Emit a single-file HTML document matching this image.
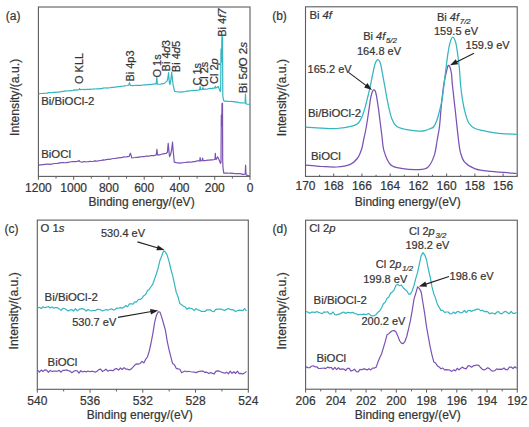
<!DOCTYPE html>
<html><head><meta charset="utf-8"><style>
html,body{margin:0;padding:0;background:#fff;}
svg{display:block;}
text{font-family:"Liberation Sans", sans-serif;fill:#333333;stroke:#3a3a3a;stroke-width:0.22px;}
</style></head><body>
<svg width="529" height="427" viewBox="0 0 529 427">
<rect width="529" height="427" fill="#fff"/>
<rect x="38.40" y="7.00" width="211.60" height="169.40" fill="none" stroke="#5c5c5c" stroke-width="1.1"/>
<line x1="38.40" y1="176.40" x2="38.40" y2="179.80" stroke="#5c5c5c" stroke-width="1"/>
<text x="38.40" y="192.00" font-size="12" text-anchor="middle" >1200</text>
<line x1="56.03" y1="176.40" x2="56.03" y2="178.60" stroke="#5c5c5c" stroke-width="1"/>
<line x1="73.67" y1="176.40" x2="73.67" y2="179.80" stroke="#5c5c5c" stroke-width="1"/>
<text x="73.67" y="192.00" font-size="12" text-anchor="middle" >1000</text>
<line x1="91.30" y1="176.40" x2="91.30" y2="178.60" stroke="#5c5c5c" stroke-width="1"/>
<line x1="108.93" y1="176.40" x2="108.93" y2="179.80" stroke="#5c5c5c" stroke-width="1"/>
<text x="108.93" y="192.00" font-size="12" text-anchor="middle" >800</text>
<line x1="126.57" y1="176.40" x2="126.57" y2="178.60" stroke="#5c5c5c" stroke-width="1"/>
<line x1="144.20" y1="176.40" x2="144.20" y2="179.80" stroke="#5c5c5c" stroke-width="1"/>
<text x="144.20" y="192.00" font-size="12" text-anchor="middle" >600</text>
<line x1="161.83" y1="176.40" x2="161.83" y2="178.60" stroke="#5c5c5c" stroke-width="1"/>
<line x1="179.47" y1="176.40" x2="179.47" y2="179.80" stroke="#5c5c5c" stroke-width="1"/>
<text x="179.47" y="192.00" font-size="12" text-anchor="middle" >400</text>
<line x1="197.10" y1="176.40" x2="197.10" y2="178.60" stroke="#5c5c5c" stroke-width="1"/>
<line x1="214.73" y1="176.40" x2="214.73" y2="179.80" stroke="#5c5c5c" stroke-width="1"/>
<text x="214.73" y="192.00" font-size="12" text-anchor="middle" >200</text>
<line x1="232.37" y1="176.40" x2="232.37" y2="178.60" stroke="#5c5c5c" stroke-width="1"/>
<line x1="250.00" y1="176.40" x2="250.00" y2="179.80" stroke="#5c5c5c" stroke-width="1"/>
<text x="250.00" y="192.00" font-size="12" text-anchor="middle" >0</text>
<text x="5.80" y="19.60" font-size="12" text-anchor="start" >(a)</text>
<text x="141.60" y="205.60" font-size="12" text-anchor="middle" >Binding energy/(eV)</text>
<text transform="translate(18.9,97.4) rotate(-90)" font-size="12.2" text-anchor="middle">Intensity/(a.u.)</text>
<text x="41.20" y="105.20" font-size="11.4" text-anchor="start" >Bi/BiOCl-2</text>
<text x="41.20" y="158.20" font-size="11.4" text-anchor="start" >BiOCl</text>
<path d="M38.90,93.80 L40.51,93.52 L42.12,93.52 L43.73,93.28 L45.34,93.25 L46.95,93.11 L48.56,92.68 L50.17,92.51 L51.78,92.77 L53.39,92.33 L55.00,92.30 L56.50,92.00 L58.00,92.21 L59.50,91.78 L61.00,91.79 L62.50,91.44 L64.00,91.36 L65.50,90.94 L67.00,91.02 L68.50,90.97 L70.00,90.62 L71.50,90.56 L73.00,90.36 L74.50,89.89 L76.00,90.07 L77.50,89.81 L79.00,89.60 L79.60,88.60 L80.30,89.70 L81.82,89.52 L83.33,89.30 L84.85,89.63 L86.36,89.35 L87.88,89.39 L89.39,89.38 L90.91,89.21 L92.42,89.23 L93.94,88.89 L95.45,89.00 L96.97,88.74 L98.48,88.90 L100.00,88.60 L101.51,88.65 L103.02,88.12 L104.53,88.00 L106.04,87.90 L107.55,88.13 L109.06,87.73 L110.57,87.68 L112.08,87.38 L113.59,87.34 L115.10,87.20 L116.61,86.91 L118.12,86.66 L119.63,86.54 L121.14,86.31 L122.66,86.24 L124.17,85.89 L125.68,85.78 L127.19,85.51 L128.70,85.10 L129.50,82.60 L130.40,85.40 L132.25,85.65 L134.10,85.49 L135.95,85.23 L137.80,85.40 L139.32,85.46 L140.84,85.39 L142.36,85.24 L143.88,84.95 L145.40,84.80 L146.94,84.78 L148.49,84.40 L150.03,84.58 L151.57,84.32 L153.11,84.05 L154.66,83.81 L156.20,83.90 L156.80,77.00 L157.40,84.20 L159.05,84.23 L160.70,84.14 L162.35,83.54 L164.00,83.60 L165.55,82.35 L167.10,80.80 L167.70,79.00 L168.60,72.60 L169.30,82.00 L169.90,84.60 L170.90,80.00 L171.70,72.40 L172.50,80.00 L173.20,85.40 L174.60,91.40 L176.40,91.62 L178.20,91.76 L180.00,92.20 L181.64,91.88 L183.28,91.89 L184.92,91.73 L186.56,91.09 L188.20,91.10 L189.81,90.97 L191.43,90.50 L193.04,90.65 L194.66,90.27 L196.27,90.36 L197.89,90.23 L199.50,89.80 L200.10,86.60 L200.80,89.60 L202.20,89.40 L202.80,87.60 L203.50,89.30 L205.10,89.15 L206.70,89.23 L208.30,88.73 L209.90,88.46 L211.50,88.56 L213.10,88.12 L214.70,88.20 L215.40,86.20 L216.00,88.00 L217.30,87.20 L218.20,86.40 L220.20,91.50 L220.70,90.00 L221.00,49.00 L221.50,62.00 L221.90,36.50 L222.50,36.50 L222.80,96.00 L223.60,100.40 L224.30,101.20 L226.04,101.13 L227.78,101.31 L229.52,101.50 L231.26,101.35 L233.00,101.60 L234.53,101.57 L236.06,102.18 L237.59,102.11 L239.11,102.63 L240.64,102.80 L242.17,102.74 L243.70,103.00 L245.10,102.80 L245.50,94.00 L245.90,103.60 L246.60,104.10 L248.10,104.23 L249.60,104.40" fill="none" stroke="#33b6bf" stroke-width="1.2" stroke-linejoin="round"/>
<path d="M38.90,165.10 L40.44,164.82 L41.97,164.61 L43.51,164.61 L45.05,164.35 L46.58,164.16 L48.12,164.18 L49.65,164.29 L51.19,164.09 L52.73,163.92 L54.26,163.51 L55.80,163.50 L57.30,163.36 L58.80,163.07 L60.30,162.86 L61.80,162.66 L63.30,162.56 L64.80,162.75 L66.30,162.54 L67.80,162.37 L69.30,162.21 L70.80,161.75 L72.30,161.64 L73.80,161.64 L75.30,161.54 L76.80,161.44 L78.30,161.10 L78.90,160.40 L79.60,161.50 L81.00,161.90 L82.51,162.03 L84.03,161.58 L85.54,161.78 L87.06,161.76 L88.57,161.62 L90.09,161.40 L91.60,161.50 L93.28,161.29 L94.96,160.89 L96.64,161.12 L98.32,160.88 L100.00,160.50 L101.50,160.30 L103.00,159.95 L104.50,160.03 L106.00,159.60 L107.54,159.43 L109.08,159.38 L110.62,159.15 L112.16,158.78 L113.70,158.52 L115.24,158.41 L116.78,158.12 L118.32,157.78 L119.86,157.64 L121.40,157.69 L122.94,157.10 L124.48,156.89 L126.02,156.98 L127.56,156.60 L129.10,156.50 L130.40,153.20 L131.80,157.90 L133.39,157.74 L134.97,157.53 L136.56,157.28 L138.15,157.43 L139.73,156.85 L141.32,156.78 L142.91,156.49 L144.49,156.53 L146.08,156.17 L147.67,156.03 L149.25,156.04 L150.84,155.65 L152.43,155.59 L154.01,155.58 L155.60,155.20 L156.30,155.00 L156.90,149.30 L157.50,154.90 L160.00,154.80 L161.50,154.28 L163.00,153.93 L164.50,153.69 L166.00,153.50 L167.40,152.30 L168.20,143.40 L169.00,152.00 L169.60,156.60 L170.60,154.50 L171.60,150.00 L172.50,142.20 L173.30,152.00 L174.30,162.10 L176.13,162.60 L177.97,162.89 L179.80,163.20 L181.33,162.88 L182.86,162.75 L184.39,162.48 L185.92,162.44 L187.45,162.05 L188.98,162.19 L190.52,162.11 L192.05,161.95 L193.58,161.66 L195.11,161.58 L196.64,160.93 L198.17,160.88 L199.70,160.80 L200.10,157.60 L200.60,160.80 L202.10,160.60 L202.60,158.00 L203.10,160.60 L204.70,160.68 L206.30,160.42 L207.90,160.08 L209.50,160.19 L211.10,159.87 L212.70,159.82 L214.30,159.50 L215.00,159.20 L215.30,153.30 L215.70,159.20 L216.20,159.50 L217.60,156.80 L218.90,159.50 L220.60,163.50 L221.00,162.00 L221.30,115.00 L221.70,126.00 L222.00,103.40 L222.50,103.60 L222.70,160.00 L223.00,168.00 L223.80,173.20 L225.45,173.13 L227.10,173.11 L228.75,173.27 L230.40,173.15 L232.05,173.31 L233.70,173.40 L235.20,173.76 L236.70,173.57 L238.20,173.54 L239.70,173.69 L241.20,173.88 L242.70,174.31 L244.20,174.30 L245.20,174.00 L245.60,165.20 L246.00,174.50 L246.60,175.10 L248.10,175.48 L249.60,176.00" fill="none" stroke="#7a52b3" stroke-width="1.2" stroke-linejoin="round"/>
<text transform="translate(82.60,84.00) rotate(-90)" font-size="11">O KLL</text>
<text transform="translate(134.30,81.60) rotate(-90)" font-size="11">Bi 4p3</text>
<text transform="translate(160.80,77.60) rotate(-90)" font-size="11">O 1s</text>
<text transform="translate(170.30,71.40) rotate(-90)" font-size="11">Bi 4<tspan font-style="italic">d</tspan>3</text>
<text transform="translate(179.50,72.20) rotate(-90)" font-size="11">Bi 4<tspan font-style="italic">d</tspan>5</text>
<text transform="translate(201.10,85.60) rotate(-90)" font-size="11">C 1s</text>
<text transform="translate(207.70,86.80) rotate(-90)" font-size="11">Cl 2s</text>
<text transform="translate(218.30,84.00) rotate(-90)" font-size="11">Cl 2<tspan font-style="italic">p</tspan></text>
<text transform="translate(225.80,36.80) rotate(-90)" font-size="11">Bi 4<tspan font-style="italic">f7</tspan></text>
<text transform="translate(246.60,93.20) rotate(-90)" font-size="11.7">Bi 5<tspan font-style="italic">d</tspan>O 2<tspan font-style="italic">s</tspan></text>
<rect x="305.50" y="6.80" width="211.70" height="169.60" fill="none" stroke="#5c5c5c" stroke-width="1.1"/>
<line x1="305.50" y1="176.40" x2="305.50" y2="173.50" stroke="#5c5c5c" stroke-width="1"/>
<text x="305.50" y="189.60" font-size="12" text-anchor="middle" >170</text>
<line x1="319.61" y1="176.40" x2="319.61" y2="174.80" stroke="#5c5c5c" stroke-width="1"/>
<line x1="333.73" y1="176.40" x2="333.73" y2="173.50" stroke="#5c5c5c" stroke-width="1"/>
<text x="333.73" y="189.60" font-size="12" text-anchor="middle" >168</text>
<line x1="347.84" y1="176.40" x2="347.84" y2="174.80" stroke="#5c5c5c" stroke-width="1"/>
<line x1="361.95" y1="176.40" x2="361.95" y2="173.50" stroke="#5c5c5c" stroke-width="1"/>
<text x="361.95" y="189.60" font-size="12" text-anchor="middle" >166</text>
<line x1="376.07" y1="176.40" x2="376.07" y2="174.80" stroke="#5c5c5c" stroke-width="1"/>
<line x1="390.18" y1="176.40" x2="390.18" y2="173.50" stroke="#5c5c5c" stroke-width="1"/>
<text x="390.18" y="189.60" font-size="12" text-anchor="middle" >164</text>
<line x1="404.29" y1="176.40" x2="404.29" y2="174.80" stroke="#5c5c5c" stroke-width="1"/>
<line x1="418.41" y1="176.40" x2="418.41" y2="173.50" stroke="#5c5c5c" stroke-width="1"/>
<text x="418.41" y="189.60" font-size="12" text-anchor="middle" >162</text>
<line x1="432.52" y1="176.40" x2="432.52" y2="174.80" stroke="#5c5c5c" stroke-width="1"/>
<line x1="446.63" y1="176.40" x2="446.63" y2="173.50" stroke="#5c5c5c" stroke-width="1"/>
<text x="446.63" y="189.60" font-size="12" text-anchor="middle" >160</text>
<line x1="460.75" y1="176.40" x2="460.75" y2="174.80" stroke="#5c5c5c" stroke-width="1"/>
<line x1="474.86" y1="176.40" x2="474.86" y2="173.50" stroke="#5c5c5c" stroke-width="1"/>
<text x="474.86" y="189.60" font-size="12" text-anchor="middle" >158</text>
<line x1="488.97" y1="176.40" x2="488.97" y2="174.80" stroke="#5c5c5c" stroke-width="1"/>
<line x1="503.09" y1="176.40" x2="503.09" y2="173.50" stroke="#5c5c5c" stroke-width="1"/>
<text x="503.09" y="189.60" font-size="12" text-anchor="middle" >156</text>
<line x1="517.20" y1="176.40" x2="517.20" y2="174.80" stroke="#5c5c5c" stroke-width="1"/>
<text x="272.20" y="19.60" font-size="12" text-anchor="start" >(b)</text>
<text x="407.80" y="206.20" font-size="12" text-anchor="middle" >Binding energy/(eV)</text>
<text transform="translate(285.8,97.6) rotate(-90)" font-size="12.2" text-anchor="middle">Intensity/(a.u.)</text>
<text x="309.40" y="19.00" font-size="11.3" text-anchor="start" >Bi <tspan font-style="italic">4f</tspan></text>
<text x="308.00" y="117.00" font-size="11.4" text-anchor="start" >Bi/BiOCl-2</text>
<text x="311.00" y="160.00" font-size="11.4" text-anchor="start" >BiOCl</text>
<text x="363.20" y="40.40" font-size="11" text-anchor="start" >Bi <tspan font-style="italic">4f</tspan><tspan font-size="7.8" font-style="italic" dx="0.8" dy="3.0">5/2</tspan></text>
<text x="357.00" y="55.20" font-size="11" text-anchor="start" >164.8 eV</text>
<text x="307.60" y="73.00" font-size="11" text-anchor="start" >165.2 eV</text>
<text x="437.00" y="20.80" font-size="11" text-anchor="start" >Bi <tspan font-style="italic">4f</tspan><tspan font-size="7.8" font-style="italic" dx="0.8" dy="3.0">7/2</tspan></text>
<text x="434.00" y="35.00" font-size="11" text-anchor="start" >159.5 eV</text>
<text x="465.60" y="49.00" font-size="11" text-anchor="start" >159.9 eV</text>
<path d="M305.80,165.20 C308.45,165.42 316.55,166.20 321.70,166.50 C326.85,166.80 332.02,167.32 336.70,167.00 C341.38,166.68 346.37,166.02 349.80,164.60 C353.23,163.18 355.35,161.02 357.30,158.50 C359.25,155.98 360.45,152.58 361.50,149.50 C362.55,146.42 362.82,143.67 363.60,140.00 C364.38,136.33 365.33,132.37 366.20,127.50 C367.07,122.63 368.05,115.73 368.80,110.80 C369.55,105.87 369.98,101.33 370.70,97.90 C371.42,94.47 372.25,91.07 373.10,90.20 C373.95,89.33 374.92,89.70 375.80,92.70 C376.68,95.70 377.70,103.48 378.40,108.20 C379.10,112.92 379.43,116.53 380.00,121.00 C380.57,125.47 381.13,130.02 381.80,135.00 C382.47,139.98 382.53,145.93 384.00,150.90 C385.47,155.87 387.73,161.90 390.60,164.80 C393.47,167.70 396.80,167.50 401.20,168.30 C405.60,169.10 412.60,169.73 417.00,169.60 C421.40,169.47 424.73,169.83 427.60,167.50 C430.47,165.17 432.60,160.18 434.20,155.60 C435.80,151.02 436.32,144.85 437.20,140.00 C438.08,135.15 438.85,131.80 439.50,126.50 C440.15,121.20 440.40,115.12 441.10,108.20 C441.80,101.28 442.75,91.37 443.70,85.00 C444.65,78.63 445.97,73.27 446.80,70.00 C447.63,66.73 447.95,64.98 448.70,65.40 C449.45,65.82 450.68,69.23 451.30,72.50 C451.92,75.77 451.73,78.62 452.40,85.00 C453.07,91.38 454.28,101.63 455.30,110.80 C456.32,119.97 457.63,133.03 458.50,140.00 C459.37,146.97 459.47,148.90 460.50,152.60 C461.53,156.30 462.25,159.50 464.70,162.20 C467.15,164.90 470.80,167.27 475.20,168.80 C479.60,170.33 484.17,170.62 491.10,171.40 C498.03,172.18 512.52,173.15 516.80,173.50" fill="none" stroke="#7a52b3" stroke-width="1.25"/>
<path d="M305.80,127.20 C308.45,127.35 316.55,127.88 321.70,128.10 C326.85,128.32 331.65,128.82 336.70,128.50 C341.75,128.18 348.38,127.12 352.00,126.20 C355.62,125.28 356.68,124.72 358.40,123.00 C360.12,121.28 361.22,118.37 362.30,115.90 C363.38,113.43 364.03,111.20 364.90,108.20 C365.77,105.20 366.65,101.33 367.50,97.90 C368.35,94.47 369.15,91.50 370.00,87.60 C370.85,83.70 371.72,78.57 372.60,74.50 C373.48,70.43 374.38,65.67 375.30,63.20 C376.22,60.73 377.22,59.57 378.10,59.70 C378.98,59.83 379.88,61.75 380.60,64.00 C381.32,66.25 381.63,69.08 382.40,73.20 C383.17,77.32 384.27,83.62 385.20,88.70 C386.13,93.78 386.90,98.70 388.00,103.70 C389.10,108.70 390.38,114.95 391.80,118.70 C393.22,122.45 394.47,124.48 396.50,126.20 C398.53,127.92 401.75,128.33 404.00,129.00 C406.25,129.67 407.38,129.83 410.00,130.20 C412.62,130.57 417.20,131.12 419.70,131.20 C422.20,131.28 423.23,131.13 425.00,130.70 C426.77,130.27 428.88,129.22 430.30,128.60 C431.72,127.98 432.42,128.35 433.50,127.00 C434.58,125.65 435.85,122.98 436.80,120.50 C437.75,118.02 438.35,115.43 439.20,112.10 C440.05,108.77 441.10,105.02 441.90,100.50 C442.70,95.98 443.30,90.52 444.00,85.00 C444.70,79.48 445.43,72.70 446.10,67.40 C446.77,62.10 447.35,57.28 448.00,53.20 C448.65,49.12 449.20,45.58 450.00,42.90 C450.80,40.22 451.83,37.10 452.80,37.10 C453.77,37.10 454.98,40.00 455.80,42.90 C456.62,45.80 457.10,50.20 457.70,54.50 C458.30,58.80 458.92,63.62 459.40,68.70 C459.88,73.78 460.10,79.92 460.60,85.00 C461.10,90.08 461.67,94.68 462.40,99.20 C463.13,103.72 463.93,108.13 465.00,112.10 C466.07,116.07 467.13,120.27 468.80,123.00 C470.47,125.73 472.17,127.13 475.00,128.50 C477.83,129.87 481.80,130.38 485.80,131.20 C489.80,132.02 493.83,132.87 499.00,133.40 C504.17,133.93 513.83,134.23 516.80,134.40" fill="none" stroke="#33b6bf" stroke-width="1.25"/>
<line x1="348.90" y1="72.60" x2="366.56" y2="85.82" stroke="#222" stroke-width="1.1"/>
<path d="M372.00,89.90 L364.14,87.39 L367.38,83.06 Z" fill="#222"/>
<line x1="474.00" y1="53.20" x2="456.08" y2="62.16" stroke="#222" stroke-width="1.1"/>
<path d="M450.00,65.20 L455.77,59.30 L458.18,64.13 Z" fill="#222"/>
<rect x="37.30" y="220.10" width="211.00" height="169.20" fill="none" stroke="#5c5c5c" stroke-width="1.1"/>
<line x1="37.30" y1="389.30" x2="37.30" y2="392.70" stroke="#5c5c5c" stroke-width="1"/>
<text x="37.30" y="405.00" font-size="12" text-anchor="middle" >540</text>
<line x1="63.67" y1="389.30" x2="63.67" y2="391.50" stroke="#5c5c5c" stroke-width="1"/>
<line x1="90.05" y1="389.30" x2="90.05" y2="392.70" stroke="#5c5c5c" stroke-width="1"/>
<text x="90.05" y="405.00" font-size="12" text-anchor="middle" >536</text>
<line x1="116.42" y1="389.30" x2="116.42" y2="391.50" stroke="#5c5c5c" stroke-width="1"/>
<line x1="142.80" y1="389.30" x2="142.80" y2="392.70" stroke="#5c5c5c" stroke-width="1"/>
<text x="142.80" y="405.00" font-size="12" text-anchor="middle" >532</text>
<line x1="169.18" y1="389.30" x2="169.18" y2="391.50" stroke="#5c5c5c" stroke-width="1"/>
<line x1="195.55" y1="389.30" x2="195.55" y2="392.70" stroke="#5c5c5c" stroke-width="1"/>
<text x="195.55" y="405.00" font-size="12" text-anchor="middle" >528</text>
<line x1="221.93" y1="389.30" x2="221.93" y2="391.50" stroke="#5c5c5c" stroke-width="1"/>
<line x1="248.30" y1="389.30" x2="248.30" y2="392.70" stroke="#5c5c5c" stroke-width="1"/>
<text x="248.30" y="405.00" font-size="12" text-anchor="middle" >524</text>
<text x="4.60" y="232.80" font-size="12" text-anchor="start" >(c)</text>
<text x="139.70" y="419.20" font-size="12" text-anchor="middle" >Binding energy/(eV)</text>
<text transform="translate(18.1,310.8) rotate(-90)" font-size="12.2" text-anchor="middle">Intensity/(a.u.)</text>
<text x="40.60" y="232.40" font-size="11.3" text-anchor="start" >O 1<tspan font-style="italic">s</tspan></text>
<text x="44.60" y="301.20" font-size="11.4" text-anchor="start" >Bi/BiOCl-2</text>
<text x="47.60" y="365.60" font-size="11.4" text-anchor="start" >BiOCl</text>
<text x="101.00" y="237.20" font-size="11" text-anchor="start" >530.4 eV</text>
<text x="72.20" y="325.60" font-size="11" text-anchor="start" >530.7 eV</text>
<path d="M37.60,308.07 L39.40,307.28 L41.20,308.49 L43.00,306.77 L44.80,307.73 L46.60,307.20 L48.40,306.46 L50.20,307.92 L52.00,306.95 L53.80,308.22 L55.60,307.54 L57.40,307.72 L59.20,308.88 L61.00,310.29 L62.80,308.44 L64.60,308.51 L66.40,309.77 L68.20,310.97 L70.00,310.09 L71.80,309.46 L73.60,311.15 L75.40,308.66 L77.20,310.77 L79.00,309.42 L80.80,308.83 L82.60,308.72 L84.40,309.35 L86.20,311.04 L88.00,309.46 L89.80,310.50 L91.60,310.90 L93.40,310.24 L95.20,310.74 L97.00,309.43 L98.80,309.30 L100.60,309.79 L102.40,311.02 L104.20,310.23 L106.00,309.56 L107.80,310.06 L109.60,309.52 L111.40,308.77 L113.20,309.92 L115.00,309.60 L116.80,307.97 L118.60,308.23 L120.40,307.65 L122.20,308.14 L124.00,307.31 L125.80,305.39 L127.60,306.70 L129.40,303.84 L131.20,303.77 L133.00,304.19 L134.80,301.87 L136.60,301.96 L138.40,299.49 L140.20,299.39 L142.00,298.14 L143.80,295.72 L145.60,294.43 L147.40,290.75 L149.20,289.44 L151.00,286.78 L152.80,284.22 L154.60,278.88 L156.40,273.76 L158.20,267.94 L160.00,260.23 L161.80,255.81 L163.60,250.84 L165.40,252.11 L167.20,255.32 L169.00,261.18 L170.80,269.00 L172.60,275.46 L174.40,283.52 L176.20,292.11 L178.00,296.67 L179.80,303.58 L181.60,304.66 L183.40,306.19 L185.20,306.99 L187.00,309.30 L188.80,307.91 L190.60,308.25 L192.40,308.91 L194.20,310.64 L196.00,308.71 L197.80,309.71 L199.60,310.35 L201.40,311.45 L203.20,311.41 L205.00,311.52 L206.80,309.77 L208.60,309.90 L210.40,309.74 L212.20,311.28 L214.00,311.72 L215.80,309.35 L217.60,309.06 L219.40,309.17 L221.20,309.18 L223.00,309.92 L224.80,310.33 L226.60,309.40 L228.40,308.47 L230.20,309.57 L232.00,309.57 L233.80,310.15 L235.60,311.38 L237.40,310.77 L239.20,310.14 L241.00,310.34 L242.80,310.53 L244.60,308.68 L246.40,310.92" fill="none" stroke="#33b6bf" stroke-width="1.2" stroke-linejoin="round"/>
<path d="M37.60,370.08 L39.40,372.20 L41.20,370.04 L43.00,371.48 L44.80,369.87 L46.60,370.14 L48.40,372.47 L50.20,370.47 L52.00,371.50 L53.80,371.14 L55.60,371.09 L57.40,371.24 L59.20,370.39 L61.00,372.21 L62.80,370.29 L64.60,370.47 L66.40,369.89 L68.20,370.57 L70.00,371.13 L71.80,372.73 L73.60,371.43 L75.40,370.48 L77.20,370.80 L79.00,373.08 L80.80,370.67 L82.60,371.94 L84.40,371.28 L86.20,371.93 L88.00,370.96 L89.80,371.77 L91.60,371.20 L93.40,371.47 L95.20,372.16 L97.00,371.20 L98.80,369.63 L100.60,369.06 L102.40,371.52 L104.20,370.41 L106.00,369.24 L107.80,371.19 L109.60,370.25 L111.40,370.43 L113.20,370.78 L115.00,368.91 L116.80,368.72 L118.60,370.12 L120.40,368.00 L122.20,369.49 L124.00,367.63 L125.80,369.04 L127.60,369.20 L129.40,369.88 L131.20,369.04 L133.00,367.08 L134.80,365.09 L136.60,363.87 L138.40,364.12 L140.20,363.45 L142.00,361.38 L143.80,362.90 L145.60,359.42 L147.40,357.00 L149.20,351.34 L151.00,343.25 L152.80,333.89 L154.60,322.69 L156.40,315.40 L158.20,311.77 L160.00,312.09 L161.80,317.43 L163.60,323.76 L165.40,330.09 L167.20,341.03 L169.00,349.55 L170.80,356.69 L172.60,363.58 L174.40,364.68 L176.20,368.34 L178.00,368.85 L179.80,369.23 L181.60,372.66 L183.40,371.71 L185.20,371.05 L187.00,371.75 L188.80,371.24 L190.60,371.74 L192.40,372.00 L194.20,372.03 L196.00,372.63 L197.80,371.89 L199.60,371.28 L201.40,371.15 L203.20,371.19 L205.00,372.43 L206.80,372.13 L208.60,373.42 L210.40,372.70 L212.20,373.20 L214.00,374.08 L215.80,371.45 L217.60,370.92 L219.40,371.20 L221.20,371.97 L223.00,372.64 L224.80,373.25 L226.60,372.16 L228.40,373.83 L230.20,371.18 L232.00,373.28 L233.80,371.71 L235.60,373.47 L237.40,371.20 L239.20,373.64 L241.00,373.39 L242.80,374.04 L244.60,372.90 L246.40,371.51" fill="none" stroke="#7a52b3" stroke-width="1.2" stroke-linejoin="round"/>
<line x1="137.40" y1="241.90" x2="158.08" y2="248.06" stroke="#222" stroke-width="1.1"/>
<path d="M164.60,250.00 L156.35,250.36 L157.90,245.19 Z" fill="#222"/>
<line x1="118.00" y1="317.40" x2="151.50" y2="311.57" stroke="#222" stroke-width="1.1"/>
<path d="M158.20,310.40 L150.98,314.40 L150.05,309.08 Z" fill="#222"/>
<rect x="305.60" y="220.20" width="211.70" height="169.00" fill="none" stroke="#5c5c5c" stroke-width="1.1"/>
<line x1="305.60" y1="389.20" x2="305.60" y2="392.60" stroke="#5c5c5c" stroke-width="1"/>
<text x="305.60" y="404.80" font-size="12" text-anchor="middle" >206</text>
<line x1="320.72" y1="389.20" x2="320.72" y2="391.40" stroke="#5c5c5c" stroke-width="1"/>
<line x1="335.84" y1="389.20" x2="335.84" y2="392.60" stroke="#5c5c5c" stroke-width="1"/>
<text x="335.84" y="404.80" font-size="12" text-anchor="middle" >204</text>
<line x1="350.96" y1="389.20" x2="350.96" y2="391.40" stroke="#5c5c5c" stroke-width="1"/>
<line x1="366.09" y1="389.20" x2="366.09" y2="392.60" stroke="#5c5c5c" stroke-width="1"/>
<text x="366.09" y="404.80" font-size="12" text-anchor="middle" >202</text>
<line x1="381.21" y1="389.20" x2="381.21" y2="391.40" stroke="#5c5c5c" stroke-width="1"/>
<line x1="396.33" y1="389.20" x2="396.33" y2="392.60" stroke="#5c5c5c" stroke-width="1"/>
<text x="396.33" y="404.80" font-size="12" text-anchor="middle" >200</text>
<line x1="411.45" y1="389.20" x2="411.45" y2="391.40" stroke="#5c5c5c" stroke-width="1"/>
<line x1="426.57" y1="389.20" x2="426.57" y2="392.60" stroke="#5c5c5c" stroke-width="1"/>
<text x="426.57" y="404.80" font-size="12" text-anchor="middle" >198</text>
<line x1="441.69" y1="389.20" x2="441.69" y2="391.40" stroke="#5c5c5c" stroke-width="1"/>
<line x1="456.81" y1="389.20" x2="456.81" y2="392.60" stroke="#5c5c5c" stroke-width="1"/>
<text x="456.81" y="404.80" font-size="12" text-anchor="middle" >196</text>
<line x1="471.94" y1="389.20" x2="471.94" y2="391.40" stroke="#5c5c5c" stroke-width="1"/>
<line x1="487.06" y1="389.20" x2="487.06" y2="392.60" stroke="#5c5c5c" stroke-width="1"/>
<text x="487.06" y="404.80" font-size="12" text-anchor="middle" >194</text>
<line x1="502.18" y1="389.20" x2="502.18" y2="391.40" stroke="#5c5c5c" stroke-width="1"/>
<line x1="517.30" y1="389.20" x2="517.30" y2="392.60" stroke="#5c5c5c" stroke-width="1"/>
<text x="517.30" y="404.80" font-size="12" text-anchor="middle" >192</text>
<text x="272.60" y="232.60" font-size="12" text-anchor="start" >(d)</text>
<text x="407.80" y="419.20" font-size="12" text-anchor="middle" >Binding energy/(eV)</text>
<text transform="translate(285.8,310.8) rotate(-90)" font-size="12.2" text-anchor="middle">Intensity/(a.u.)</text>
<text x="309.20" y="231.90" font-size="11.3" text-anchor="start" >Cl 2<tspan font-style="italic">p</tspan></text>
<text x="313.60" y="304.40" font-size="11.4" text-anchor="start" >Bi/BiOCl-2</text>
<text x="316.40" y="362.40" font-size="11.4" text-anchor="start" >BiOCl</text>
<text x="409.00" y="235.20" font-size="11" text-anchor="start" >Cl 2<tspan font-style="italic">p</tspan><tspan font-size="7.8" font-style="italic" dx="0.8" dy="3.0">3/2</tspan></text>
<text x="405.40" y="249.20" font-size="11" text-anchor="start" >198.2 eV</text>
<text x="375.80" y="267.60" font-size="11" text-anchor="start" >Cl 2<tspan font-style="italic">p</tspan><tspan font-size="7.8" font-style="italic" dx="0.8" dy="3.0">1/2</tspan></text>
<text x="363.20" y="283.00" font-size="11" text-anchor="start" >199.8 eV</text>
<text x="449.60" y="279.70" font-size="11" text-anchor="start" >198.6 eV</text>
<text x="361.40" y="325.20" font-size="11" text-anchor="start" >200.2 eV</text>
<path d="M306.00,311.56 L307.80,311.98 L309.60,313.24 L311.40,312.15 L313.20,312.21 L315.00,312.56 L316.80,311.51 L318.60,312.44 L320.40,313.03 L322.20,313.71 L324.00,311.82 L325.80,312.26 L327.60,311.72 L329.40,313.85 L331.20,313.87 L333.00,311.97 L334.80,314.55 L336.60,314.94 L338.40,314.11 L340.20,313.92 L342.00,312.57 L343.80,311.99 L345.60,313.49 L347.40,312.36 L349.20,312.63 L351.00,312.88 L352.80,312.33 L354.60,313.60 L356.40,313.77 L358.20,315.02 L360.00,314.26 L361.80,314.54 L363.60,314.18 L365.40,314.64 L367.20,314.12 L369.00,313.53 L370.80,315.62 L372.60,315.96 L374.40,315.57 L376.20,314.44 L378.00,312.19 L379.80,310.74 L381.60,307.72 L383.40,303.69 L385.20,302.28 L387.00,298.45 L388.80,297.00 L390.60,293.13 L392.40,291.99 L394.20,289.83 L396.00,285.25 L397.80,284.39 L399.60,285.77 L401.40,285.19 L403.20,287.75 L405.00,289.50 L406.80,290.83 L408.60,294.08 L410.40,294.08 L412.20,290.77 L414.00,285.48 L415.80,278.35 L417.60,272.34 L419.40,263.92 L421.20,255.63 L423.00,252.55 L424.80,255.04 L426.60,260.07 L428.40,269.49 L430.20,277.10 L432.00,286.91 L433.80,293.74 L435.60,298.36 L437.40,304.41 L439.20,307.37 L441.00,310.35 L442.80,310.28 L444.60,312.30 L446.40,312.00 L448.20,311.99 L450.00,314.00 L451.80,313.72 L453.60,312.09 L455.40,313.50 L457.20,311.60 L459.00,311.71 L460.80,312.95 L462.60,312.35 L464.40,310.48 L466.20,312.72 L468.00,310.57 L469.80,310.23 L471.60,311.57 L473.40,310.29 L475.20,309.91 L477.00,309.17 L478.80,309.08 L480.60,310.65 L482.40,310.21 L484.20,311.53 L486.00,311.34 L487.80,311.87 L489.60,313.77 L491.40,312.93 L493.20,313.22 L495.00,314.02 L496.80,312.03 L498.60,311.57 L500.40,313.70 L502.20,313.68 L504.00,311.90 L505.80,311.38 L507.60,312.89 L509.40,313.65 L511.20,311.46 L513.00,313.33 L514.80,313.33 L516.60,312.43" fill="none" stroke="#33b6bf" stroke-width="1.2" stroke-linejoin="round"/>
<path d="M306.00,366.92 L307.80,367.56 L309.60,367.76 L311.40,366.30 L313.20,365.76 L315.00,366.85 L316.80,366.80 L318.60,368.48 L320.40,368.45 L322.20,368.26 L324.00,368.18 L325.80,368.56 L327.60,367.15 L329.40,367.90 L331.20,367.27 L333.00,369.55 L334.80,367.48 L336.60,369.58 L338.40,367.79 L340.20,369.49 L342.00,368.83 L343.80,369.06 L345.60,370.54 L347.40,368.42 L349.20,368.36 L351.00,371.05 L352.80,370.36 L354.60,369.14 L356.40,371.77 L358.20,371.91 L360.00,369.32 L361.80,369.76 L363.60,368.85 L365.40,369.14 L367.20,370.00 L369.00,368.65 L370.80,369.94 L372.60,368.09 L374.40,368.06 L376.20,367.12 L378.00,361.90 L379.80,357.54 L381.60,353.78 L383.40,347.80 L385.20,341.69 L387.00,334.78 L388.80,333.68 L390.60,332.01 L392.40,330.78 L394.20,330.47 L396.00,331.95 L397.80,335.90 L399.60,340.75 L401.40,343.09 L403.20,343.66 L405.00,341.31 L406.80,336.26 L408.60,328.61 L410.40,320.67 L412.20,310.67 L414.00,299.15 L415.80,293.30 L417.60,286.90 L419.40,288.48 L421.20,292.12 L423.00,303.24 L424.80,314.42 L426.60,327.39 L428.40,337.21 L430.20,347.16 L432.00,355.09 L433.80,361.97 L435.60,362.94 L437.40,365.93 L439.20,367.05 L441.00,368.82 L442.80,368.06 L444.60,369.89 L446.40,369.55 L448.20,369.78 L450.00,370.18 L451.80,371.39 L453.60,369.87 L455.40,370.79 L457.20,368.29 L459.00,369.91 L460.80,368.20 L462.60,367.14 L464.40,368.39 L466.20,368.79 L468.00,365.86 L469.80,365.94 L471.60,367.18 L473.40,365.81 L475.20,365.35 L477.00,365.00 L478.80,365.40 L480.60,367.55 L482.40,369.32 L484.20,369.99 L486.00,368.96 L487.80,367.72 L489.60,368.79 L491.40,370.70 L493.20,371.22 L495.00,370.46 L496.80,368.91 L498.60,369.38 L500.40,369.10 L502.20,369.30 L504.00,368.04 L505.80,369.70 L507.60,369.60 L509.40,367.18 L511.20,367.01 L513.00,368.53 L514.80,366.77 L516.60,368.31" fill="none" stroke="#7a52b3" stroke-width="1.2" stroke-linejoin="round"/>
<line x1="449.00" y1="276.60" x2="425.26" y2="284.38" stroke="#222" stroke-width="1.1"/>
<path d="M418.80,286.50 L425.37,281.50 L427.05,286.64 Z" fill="#222"/>
</svg>
</body></html>
